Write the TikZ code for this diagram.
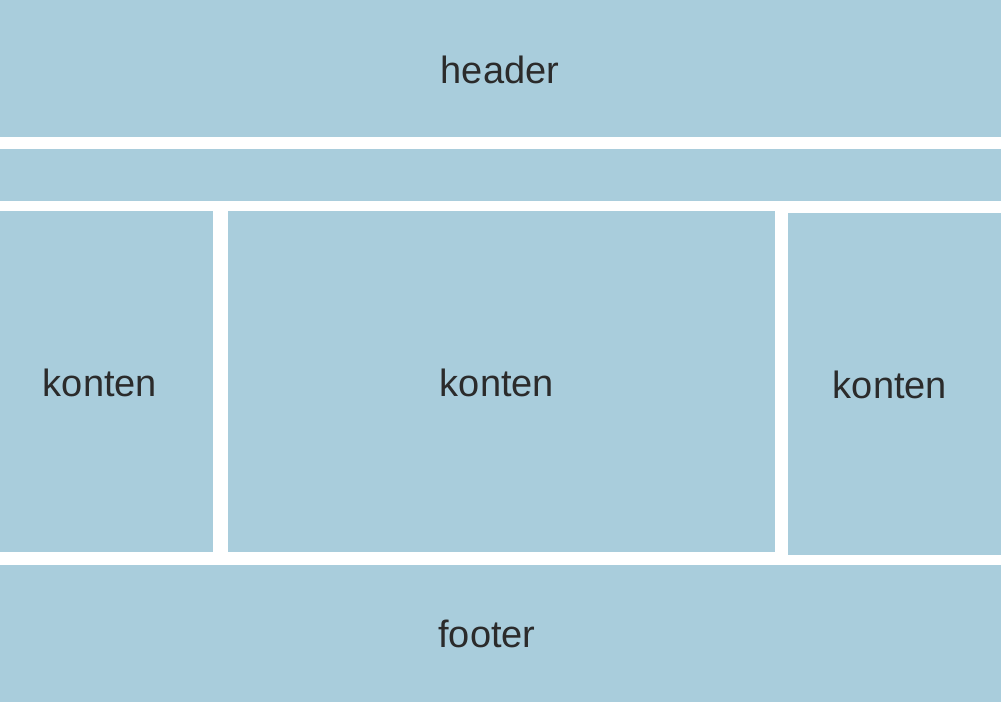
\documentclass[tikz,border=0pt]{standalone}
\usepackage{fontspec}
\setmainfont{Liberation Sans}
\definecolor{boxc}{HTML}{A9CDDC}
\definecolor{txt}{HTML}{2B2B2B}
\begin{document}
\begin{tikzpicture}[x=1pt,y=-1pt,
  panel/.style={fill=boxc,draw=none},
  lbl/.style={text=txt,font=\fontsize{38}{44}\selectfont}]
\useasboundingbox[fill=white] (0,0) rectangle (1001,702);
\fill[panel] (0,0) rectangle (1001,137);
\fill[panel] (0,149) rectangle (1001,201);
\fill[panel] (0,211) rectangle (213,552);
\fill[panel] (228,211) rectangle (775,552);
\fill[panel] (788,213) rectangle (1001,555);
\fill[panel] (0,565) rectangle (1001,702);
\node[lbl] (h) at (500,70) {header};
\node[lbl] (k1) at (100,383) {konten};
\node[lbl] (k2) at (497,383) {konten};
\node[lbl] (k3) at (890,385) {konten};
\node[lbl] (f) at (487,634) {footer};
\end{tikzpicture}
\end{document}
